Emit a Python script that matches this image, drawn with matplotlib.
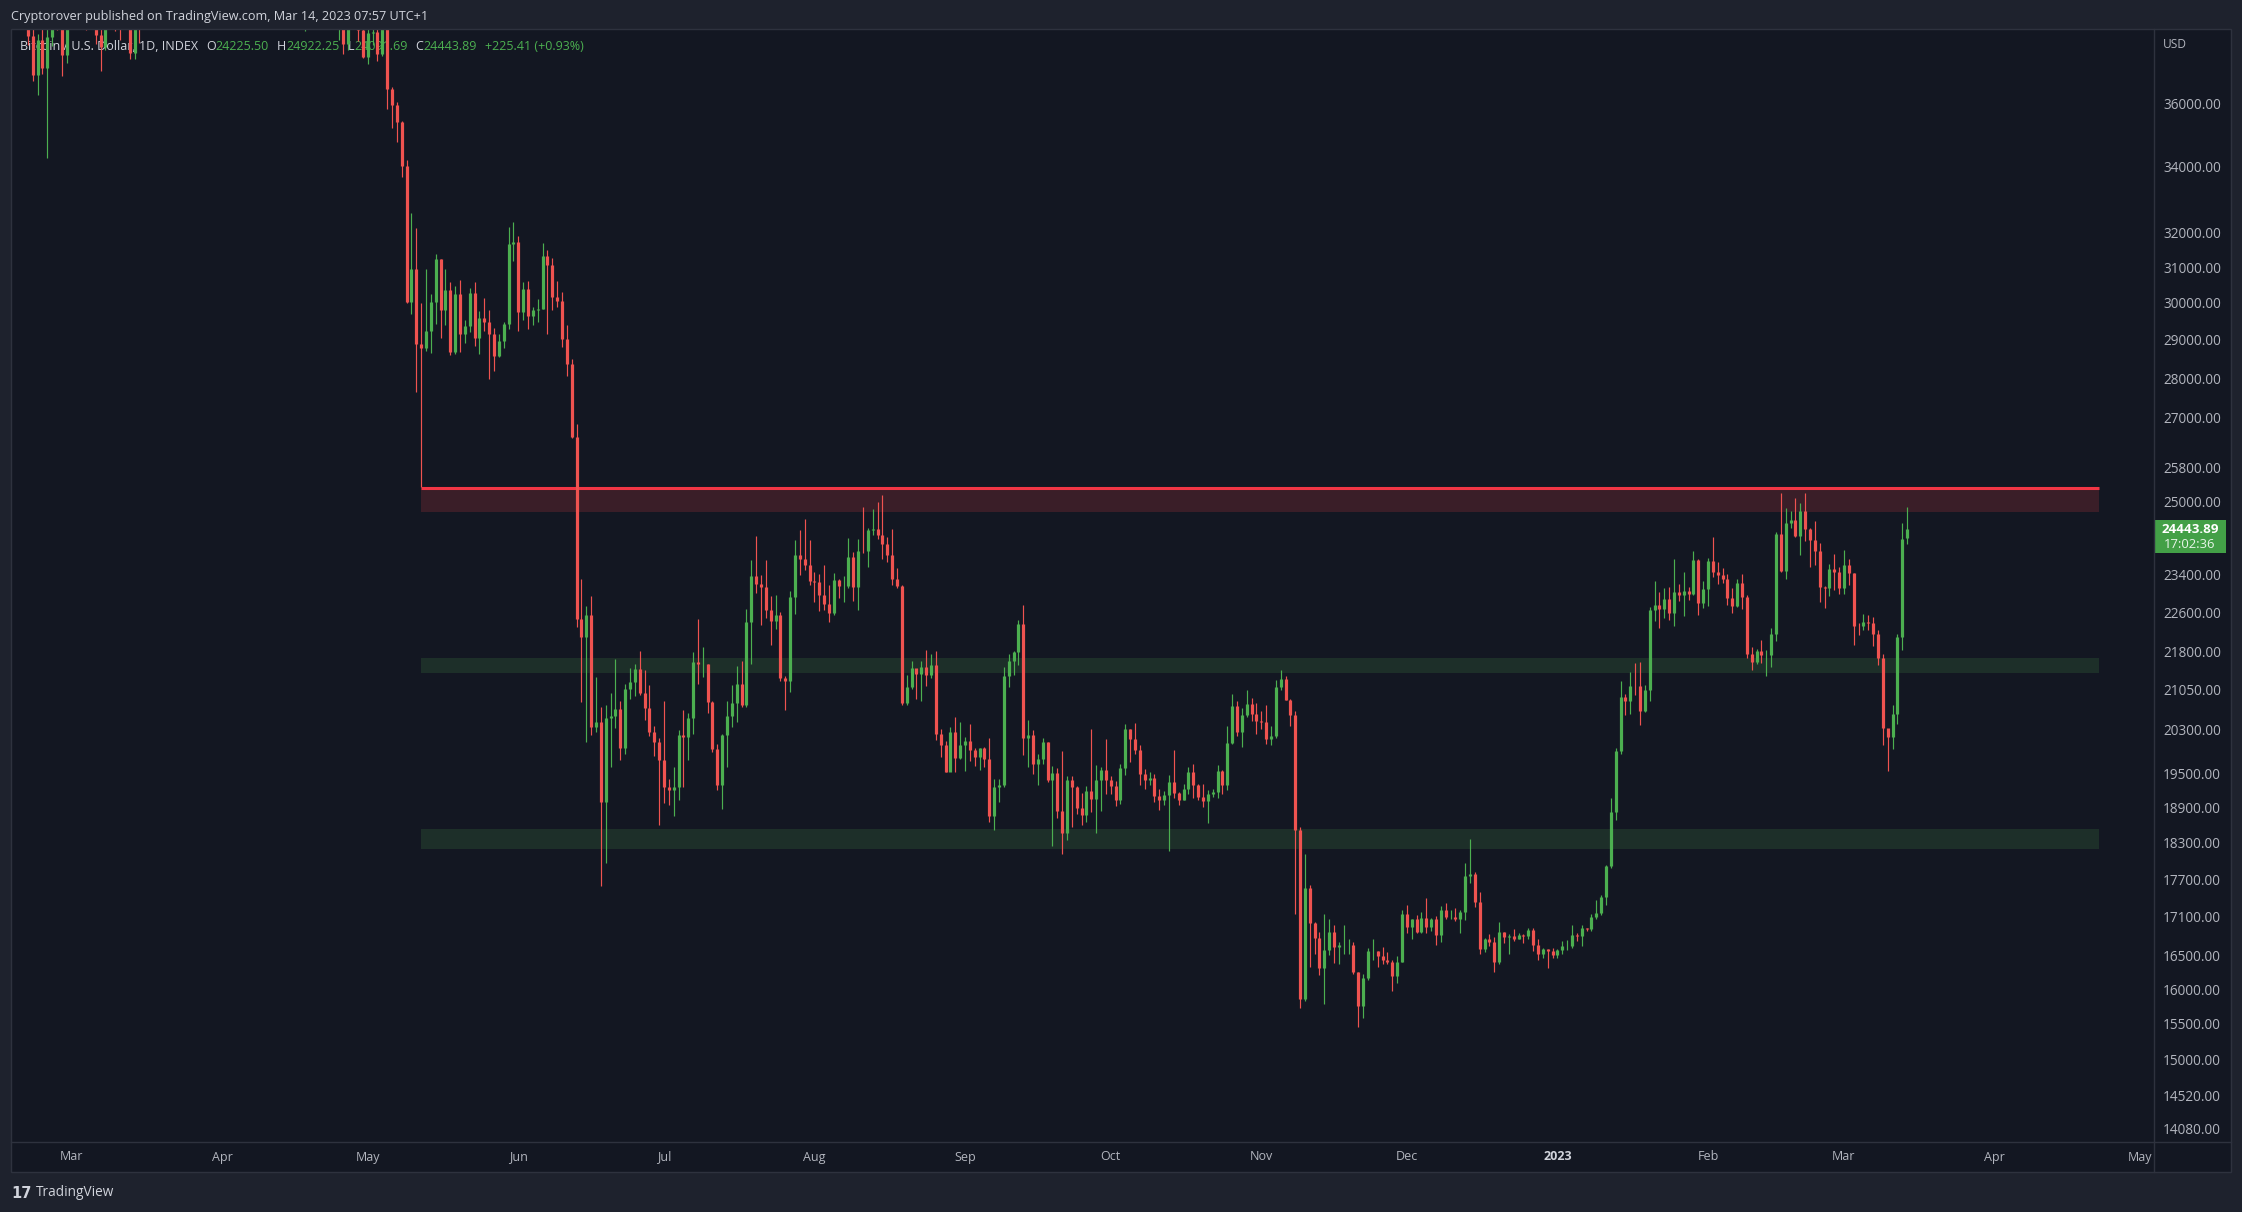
import numpy as np
import pandas as pd
import matplotlib
matplotlib.use("Agg")
import matplotlib.pyplot as plt
import matplotlib.dates as mdates
from matplotlib.patches import Rectangle
from matplotlib.lines import Line2D
from matplotlib.ticker import NullLocator

# ---------------- data (daily candles: high, low, close) ----------------
START = "2022-02-16"
FIRST_OPEN = 44580.0

FEB_2022 = [  # from Feb 16
    (44580, 43330, 43900), (44190, 40130, 40550), (40960, 39470, 40000), (40450, 39650, 40110),
    (40150, 38050, 38380), (39470, 36810, 37030), (38430, 36360, 38250), (39270, 37050, 37260),
    (38970, 34320, 38330), (39700, 38020, 39220), (40270, 38580, 39120), (39840, 37000, 37700),
    (44000, 37450, 43190),
]
MAR_2022 = [
    (44950, 42850, 44420), (45370, 43350, 43920), (44100, 41850, 42450), (42500, 38600, 39140),
    (39620, 38620, 39400), (39650, 38100, 38420), (39540, 37160, 37990), (39350, 37870, 38730),
    (42580, 38650, 41940), (41960, 38550, 39420), (40240, 38230, 38730), (39350, 38660, 38810),
    (39300, 37590, 37790), (39880, 37580, 39670), (39860, 38120, 39280), (41700, 38920, 41110),
    (41470, 40530, 40920), (42300, 40250, 41760), (42380, 41520, 42200), (42300, 40920, 41260),
    (41530, 40500, 41000), (43360, 40890, 42360), (43000, 41840, 42890), (44220, 42580, 43960),
    (45100, 43620, 44350), (44780, 44090, 44500), (46920, 44420, 46820), (48190, 46660, 47130),
    (48100, 46940, 47430), (47700, 46570, 47060), (47590, 45210, 45530),
]
APR_2022 = [
    (46680, 44260, 46290), (47200, 45670, 45860), (47050, 45560, 46450), (46880, 45180, 46620),
    (47200, 45370, 45500), (45520, 43120, 43170), (43900, 42750, 43440), (43960, 42130, 42250),
    (42790, 42110, 42750), (43430, 41880, 42160), (42400, 39200, 39530), (40690, 39260, 40080),
    (41520, 39570, 41150), (41490, 39590, 39940), (40850, 39790, 40550), (40700, 40020, 40380),
    (40600, 39560, 39680), (40980, 38540, 40800), (41740, 40540, 41500), (42200, 40830, 41370),
    (42970, 39770, 40480), (40790, 39190, 39710), (39990, 39300, 39470), (39930, 39050, 39450),
    (40600, 38220, 40430), (40780, 37740, 38110), (39450, 37900, 39240), (40370, 38880, 39740),
    (39930, 38200, 38600), (38780, 37600, 37630),
]
MAY_2022 = [
    (38660, 37390, 38470), (39150, 38060, 38530), (38620, 37520, 37750), (40000, 37690, 39690),
    (39830, 35880, 36550), (36620, 35260, 36010), (36130, 34810, 35470), (35500, 33720, 34060),
    (34250, 30040, 30090), (32640, 29760, 31010), (32190, 27690, 28940), (30050, 25400, 28850),
    (30990, 28760, 29280), (30300, 28700, 30080), (31430, 29480, 31300), (31300, 29100, 29860),
    (31000, 29460, 30420), (30640, 28650, 28720), (30530, 28680, 30310), (30700, 28720, 29200),
    (29590, 28960, 29430), (30470, 29260, 30320), (30640, 28890, 29100), (29830, 28690, 29650),
    (30200, 29300, 29540), (29870, 28040, 29200), (29360, 28230, 28630), (29200, 28600, 29030),
    (29540, 28830, 29470), (32220, 29340, 31730), (32360, 31230, 31790),
]
JUN_2022 = [
    (31960, 29300, 29800), (30640, 29590, 30450), (30670, 29350, 29700), (29940, 29460, 29860),
    (30160, 29520, 29900), (31740, 29880, 31370), (31540, 29220, 31130), (31330, 29850, 30210),
    (30660, 29950, 30110), (30350, 28860, 29080), (29440, 28120, 28420), (28560, 26560, 26580),
    (26890, 22330, 22490), (23330, 20850, 22130), (22760, 20110, 22580), (22970, 20230, 20380),
    (21330, 20290, 20470), (20760, 17620, 19020), (20790, 17990, 20550), (21020, 19650, 20580),
    (21700, 20360, 20720), (20870, 19780, 19990), (21200, 19890, 21100), (21520, 20920, 21230),
    (21590, 20970, 21500), (21860, 20990, 21030), (21480, 20510, 20730), (21190, 20210, 20280),
    (20400, 19850, 20100), (20170, 18630, 19780),
]
JUL_2022 = [
    (20880, 19010, 19300), (19440, 18980, 19240), (19640, 18780, 19300), (20330, 19070, 20230),
    (20700, 19300, 20190), (20640, 19780, 20550), (21830, 20260, 21640), (22500, 21200, 21590),
    (21930, 21330, 21590), (21600, 20650, 20850), (20880, 19920, 19970), (20060, 19240, 19330),
    (20260, 18910, 20230), (20880, 19640, 20590), (21190, 20390, 20830), (21560, 20480, 21200),
    (21660, 20760, 20790), (22700, 20760, 22430), (23760, 21600, 23400), (24280, 23050, 23230),
    (23420, 22370, 23160), (23740, 22520, 22680), (22980, 21970, 22450), (23000, 22300, 22580),
    (22650, 21250, 21310), (21350, 20710, 21250), (23080, 21040, 22950), (24190, 22600, 23850),
    (24400, 23420, 23780), (24650, 23530, 23640), (24180, 23220, 23300),
]
AUG_2022 = [
    (23480, 22850, 23270), (23450, 22670, 22990), (23640, 22690, 22820), (23220, 22430, 22620),
    (23460, 22590, 23310), (23350, 22930, 23180), (23400, 22850, 23180), (24230, 23150, 23810),
    (23920, 22880, 23160), (24200, 22680, 23950), (24920, 23900, 23940), (24450, 23600, 24400),
    (24890, 24310, 24440), (25050, 24200, 24310), (25200, 23780, 24100), (24250, 23700, 23850),
    (24440, 23220, 23340), (23580, 23140, 23190), (23210, 20800, 20830), (21380, 20790, 21140),
    (21660, 21100, 21520), (21500, 20910, 21400), (21650, 20880, 21530), (21880, 21160, 21370),
    (21800, 21320, 21570), (21860, 20140, 20260), (20340, 19830, 20040), (20120, 19550, 19550),
    (20390, 19570, 20290), (20570, 19550, 19810), (20480, 19800, 20050),
]
SEP_2022 = [
    (20200, 19570, 20130), (20440, 19760, 19950), (20000, 19670, 19830), (20000, 19600, 19990),
    (20020, 19640, 19800), (20170, 18680, 18790), (19440, 18540, 19290), (19440, 19020, 19320),
    (21540, 19300, 21360), (21790, 21140, 21650), (21860, 21370, 21830), (22470, 21570, 22400),
    (22790, 19860, 20180), (20520, 19640, 20240), (20330, 19530, 19700), (19890, 19320, 19800),
    (20180, 19700, 20110), (20100, 19380, 19420), (19660, 18270, 19540), (19630, 18760, 18880),
    (19940, 18140, 18490), (19490, 18370, 19410), (19480, 18600, 19300), (19310, 18820, 18930),
    (19180, 18640, 18800), (19310, 18680, 19220), (20340, 18850, 19080), (19680, 18500, 19410),
    (19640, 18870, 19590), (20160, 19170, 19420),
]
OCT_2022 = [
    (19480, 19160, 19310), (19390, 18960, 19060), (19700, 19000, 19630), (20440, 19510, 20340),
    (20350, 19740, 20160), (20450, 19880, 19960), (20050, 19330, 19530), (19610, 19260, 19420),
    (19550, 19330, 19450), (19520, 19030, 19130), (19250, 18890, 19060), (19220, 18980, 19150),
    (19500, 18190, 19380), (19950, 19100, 19180), (19200, 18980, 19070), (19340, 19070, 19260),
    (19640, 19160, 19550), (19700, 19100, 19330), (19350, 19070, 19120), (19340, 18940, 19040),
    (19240, 18660, 19170), (19260, 19120, 19210), (19690, 19090, 19570), (19600, 19160, 19330),
    (20400, 19240, 20090), (21010, 20060, 20770), (20870, 20220, 20290), (20740, 20020, 20600),
    (21080, 20560, 20810), (20930, 20500, 20630), (20840, 20250, 20490),
]
NOV_2022 = [
    (20680, 20340, 20480), (20790, 20070, 20150), (20400, 20040, 20210), (21270, 20180, 21150),
    (21470, 21080, 21300), (21360, 20890, 20900), (20920, 20400, 20600), (20680, 17170, 18540),
    (18590, 15750, 15880), (18150, 15860, 17590), (17640, 16360, 17040), (17050, 16550, 16800),
    (16900, 16240, 16350), (17180, 15820, 16620), (17100, 16540, 16900), (17000, 16420, 16660),
    (16740, 16410, 16690), (17000, 16550, 16700), (16780, 16560, 16700), (16740, 16250, 16280),
    (16290, 15480, 15780), (16250, 15620, 16190), (16650, 16160, 16600), (16780, 16460, 16600),
    (16600, 16360, 16520), (16660, 16410, 16460), (16590, 16400, 16440), (16470, 16000, 16220),
    (16530, 16120, 16440), (17240, 16430, 17170),
]
DEC_2022 = [
    (17310, 16870, 16970), (17100, 16790, 17090), (17160, 16870, 16890), (17200, 16880, 17110),
    (17420, 16880, 16970), (17110, 16910, 17090), (17140, 16690, 16840), (17300, 16740, 17230),
    (17350, 17090, 17130), (17230, 17090, 17130), (17270, 17070, 17090), (17240, 16870, 17210),
    (18000, 17080, 17780), (18390, 17670, 17810), (17850, 17280, 17360), (17530, 16560, 16630),
    (16800, 16590, 16780), (16860, 16670, 16740), (16820, 16280, 16440), (17050, 16400, 16900),
    (16900, 16720, 16820), (16860, 16560, 16830), (16940, 16760, 16780), (16870, 16780, 16840),
    (16860, 16720, 16830), (16950, 16790, 16920), (16950, 16600, 16700), (16780, 16470, 16550),
    (16650, 16490, 16630), (16630, 16340, 16600), (16640, 16490, 16540),
]
JAN_2023 = [
    (16630, 16490, 16610), (16760, 16550, 16670), (16770, 16610, 16670), (17000, 16650, 16850),
    (16880, 16760, 16830), (17000, 16680, 16950), (16960, 16910, 16940), (17180, 16910, 17120),
    (17400, 17100, 17190), (17480, 17150, 17440), (17960, 17320, 17940), (19100, 17920, 18850),
    (19990, 18720, 19930), (21260, 19890, 20950), (21000, 20600, 20870), (21440, 20630, 21170),
    (21620, 20980, 21160), (21640, 20420, 20680), (21190, 20670, 21080), (22750, 20880, 22680),
    (23300, 22460, 22780), (23060, 22320, 22710), (23150, 22530, 22920), (23160, 22480, 22620),
    (23780, 22350, 23060), (23240, 22880, 23010), (23480, 22560, 23080), (23160, 22900, 23030),
    (23950, 23000, 23740), (23780, 22580, 22830), (23300, 22730, 23130),
]
FEB_2023 = [
    (23800, 22760, 23730), (24250, 23390, 23490), (23700, 23230, 23430), (23580, 23260, 23330),
    (23440, 22780, 22930), (23150, 22630, 22760), (23350, 22750, 23260), (23450, 22700, 22960),
    (22990, 21720, 21800), (21930, 21470, 21630), (21900, 21600, 21860), (22080, 21610, 21780),
    (21880, 21360, 21780), (22320, 21540, 22200), (24370, 22060, 24330), (25250, 23500, 23520),
    (24900, 23350, 24570), (24850, 24450, 24630), (25130, 24260, 24280), (25030, 23850, 24840),
    (25250, 24160, 24440), (24460, 23600, 24190), (24620, 23640, 23940), (24130, 22850, 23170),
    (23200, 22720, 23150), (23670, 22970, 23550), (23880, 23100, 23490), (23590, 23020, 23140),
]
MAR_2023 = [
    (23970, 23030, 23640), (23770, 23220, 23470), (23470, 21980, 22360), (22420, 22180, 22350),
    (22600, 22270, 22430), (22580, 22270, 22410), (22540, 21950, 22200), (22270, 21580, 21710),
    (21800, 20050, 20360), (20310, 19570, 20190), (20790, 19970, 20630), (22200, 20440, 22140),
    (24570, 21880, 24218.48), (24922.25, 24091.69, 24443.89),
]

LAST_OPEN = 24225.50
LAST_CHANGE = "+225.41 (+0.93%)"
LAST_TIME = "17:02:36"

PRICE_TICKS = [36000, 34000, 32000, 31000, 30000, 29000, 28000, 27000, 25800, 25000,
               23400, 22600, 21800, 21050, 20300, 19500, 18900, 18300, 17700, 17100,
               16500, 16000, 15500, 15000, 14520, 14080]
MONTH_TICKS = ["2022-03-01", "2022-04-01", "2022-05-01", "2022-06-01", "2022-07-01",
               "2022-08-01", "2022-09-01", "2022-10-01", "2022-11-01", "2022-12-01",
               "2023-01-01", "2023-02-01", "2023-03-01", "2023-04-01", "2023-05-01"]
MONTH_LABELS = ["Mar", "Apr", "May", "Jun", "Jul", "Aug", "Sep", "Oct", "Nov", "Dec",
                "2023", "Feb", "Mar", "Apr", "May"]

RED_ZONE = (24820, 25360)          # bottom, top (top edge = resistance line)
GREEN_ZONES = [(21410, 21705), (18225, 18560)]
ZONE_START = "2022-05-12"
ZONE_END = "2023-04-22 12:00"

TITLE = "Cryptorover published on TradingView.com, Mar 14, 2023 07:57 UTC+1"
SYMBOL = "Bitcoin / U.S. Dollar, 1D, INDEX"

# ---------------- styling ----------------
W, H = 2242, 1212
FIG_BG = "#1e222d"
PANE_BG = "#131722"
BORDER = "#2e323e"
TXT = "#b2b5be"
TXT_LIGHT = "#d1d4dc"
UP = "#4caf50"
DOWN = "#ef5350"
RED_LINE = "#f23645"
RED_FILL = "#3a1e28"
GREEN_FILL = "#1d2f29"

plt.rcParams['font.family'] = ['Open Sans', 'DejaVu Sans']

# pane geometry (pixels, top-left origin)
PL, PR, PT, PB = 11, 2154, 29, 1142
AX_R, AX_B = 2231, 1172

fig = plt.figure(figsize=(W / 100, H / 100), dpi=100, facecolor=FIG_BG)

# background overlay (pixel coordinates)
bg = fig.add_axes([0, 0, 1, 1], zorder=0)
bg.set_xlim(0, W); bg.set_ylim(H, 0); bg.axis("off")
bg.add_patch(Rectangle((PL, PT), AX_R - PL, AX_B - PT, facecolor=PANE_BG, edgecolor="none"))

# main chart axes
ax = fig.add_axes([PL / W, 1 - PB / H, (PR - PL) / W, (PB - PT) / H], zorder=1)
ax.set_facecolor("none")
ax.set_yscale("log")
mar1 = mdates.date2num(pd.Timestamp("2022-03-01"))
px_per_day = 4.856
ax.set_xlim(mar1 - (71.5 - PL) / px_per_day, mar1 + (PR - 71.5) / px_per_day)
ax.set_ylim(13937, 38623)
for s in ax.spines.values():
    s.set_visible(False)
ax.set_xticks([]); ax.set_yticks([])
ax.yaxis.set_minor_locator(NullLocator())
ax.xaxis.set_minor_locator(NullLocator())

# candles
rows = [r for m in (FEB_2022, MAR_2022, APR_2022, MAY_2022, JUN_2022, JUL_2022, AUG_2022,
                    SEP_2022, OCT_2022, NOV_2022, DEC_2022, JAN_2023, FEB_2023, MAR_2023)
        for r in m]
high = np.array([r[0] for r in rows], dtype=float)
low = np.array([r[1] for r in rows], dtype=float)
close = np.array([r[2] for r in rows], dtype=float)
open_ = np.concatenate([[FIRST_OPEN], close[:-1]])
open_[-1] = LAST_OPEN
dates = pd.date_range(START, periods=len(rows), freq="D")
x = mdates.date2num(dates)
up = close >= open_

# zones
zs, ze = mdates.date2num(pd.Timestamp(ZONE_START)), mdates.date2num(pd.Timestamp(ZONE_END))
for lo_, hi_ in GREEN_ZONES:
    ax.fill_between([zs, ze], lo_, hi_, color=GREEN_FILL, lw=0, zorder=1)
ax.fill_between([zs, ze], RED_ZONE[0], RED_ZONE[1], color=RED_FILL, lw=0, zorder=1)
ax.plot([zs, ze], [RED_ZONE[1], RED_ZONE[1]], color=RED_LINE, lw=2.2, zorder=2,
        solid_capstyle="butt")

for mask, col in ((up, UP), (~up, DOWN)):
    ax.vlines(x[mask], low[mask], high[mask], color=col, lw=0.85, zorder=3)
    ax.vlines(x[mask], np.minimum(open_, close)[mask], np.maximum(open_, close)[mask],
              color=col, lw=2.3, zorder=3)

# price axis labels
lab_x = (2163 - PL) / (PR - PL)
ytr = ax.get_yaxis_transform()
for p in PRICE_TICKS:
    ax.text(lab_x, p, f"{p:.2f}", transform=ytr, ha="left", va="center",
            color=TXT, fontsize=9.8, clip_on=False)
ax.text(lab_x, 1 - (44 - PT) / (PB - PT), "USD", transform=ax.transAxes, ha="left",
        va="center", color=TXT, fontsize=8.6, clip_on=False)

# time axis labels
xtr = ax.get_xaxis_transform()
for d, lab in zip(MONTH_TICKS, MONTH_LABELS):
    ax.text(mdates.date2num(pd.Timestamp(d)), -(1157 - PB) / (PB - PT), lab, transform=xtr,
            ha="center", va="center", color=TXT if lab != "2023" else TXT_LIGHT,
            fontsize=9.0, fontweight="bold" if lab == "2023" else "normal", clip_on=False)

# title and logo
bg.text(11, 16.5, TITLE, color=TXT_LIGHT, fontsize=9.1, ha="left", va="center")
bg.text(11, 1193, "17", color=TXT_LIGHT, fontsize=10.5, fontweight="bold", ha="left",
        va="center", family=["DejaVu Sans"])
bg.text(36, 1193, "TradingView", color=TXT_LIGHT, fontsize=9.8, ha="left", va="center")

# legend (under candles)
renderer = fig.canvas.get_renderer()
segments = [(SYMBOL, TXT_LIGHT, 8), ("O", TXT_LIGHT, 0), (f"{LAST_OPEN:.2f}", UP, 8),
            ("H", TXT_LIGHT, 0), (f"{high[-1]:.2f}", UP, 8),
            ("L", TXT_LIGHT, 0), (f"{low[-1]:.2f}", UP, 8),
            ("C", TXT_LIGHT, 0), (f"{close[-1]:.2f}", UP, 8),
            (LAST_CHANGE, UP, 0)]
xpos = 20
for txt, col, gap in segments:
    t = bg.text(xpos, 46, txt, color=col, fontsize=9.0, ha="left", va="center")
    bb = t.get_window_extent(renderer)
    xpos += bb.width + gap

# foreground overlay: borders & last price label
fg = fig.add_axes([0, 0, 1, 1], zorder=2)
fg.set_xlim(0, W); fg.set_ylim(H, 0); fg.axis("off"); fg.patch.set_alpha(0)
fg.add_patch(Rectangle((PL, PT), AX_R - PL, AX_B - PT, facecolor="none", edgecolor=BORDER, lw=1))
fg.add_line(Line2D([PR, PR], [PT, AX_B], color=BORDER, lw=1))
fg.add_line(Line2D([PL, AX_R], [PB, PB], color=BORDER, lw=1))

y_last = H - ax.transData.transform((x[-1], close[-1]))[1]
fg.add_patch(Rectangle((2155, y_last - 9), 71, 33, facecolor="#43a047", edgecolor="none"))
fg.text(2190, y_last + 1, f"{close[-1]:.2f}", color="white", fontsize=9.6,
        fontweight="bold", ha="center", va="center")
fg.text(2190, y_last + 16, LAST_TIME, color="#e8f5e9", fontsize=9.4, ha="center", va="center")

fig.savefig("out.png", dpi=100, facecolor=FIG_BG)
